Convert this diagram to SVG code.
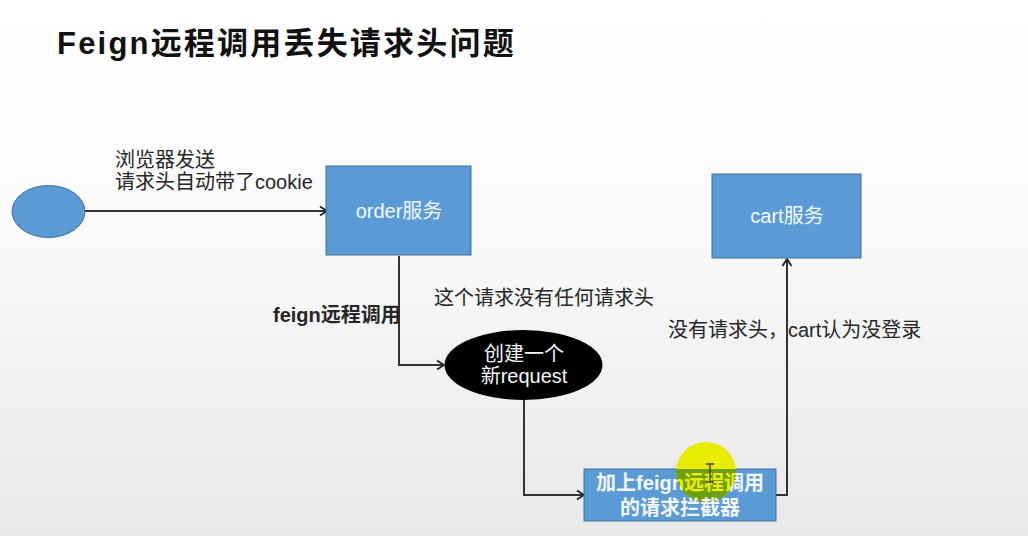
<svg xmlns="http://www.w3.org/2000/svg" width="1028" height="536" viewBox="0 0 1028 536">
<style>
text{font-family:"Liberation Sans","Noto Sans CJK SC",sans-serif;font-size:20px;fill:#262626}
.w{fill:#f4f8fc;text-anchor:middle}
.b{font-weight:bold}
.box{fill:#5b9bd5;stroke:#41719c;stroke-width:1}
.c{fill:none;stroke:#333;stroke-width:2}
</style>
<defs>
<linearGradient id="bg" x1="0" y1="0" x2="0" y2="1"><stop offset="0" stop-color="#ffffff"/><stop offset="0.45" stop-color="#f9f9f9"/><stop offset="1" stop-color="#e8e8e8"/></linearGradient>
<radialGradient id="hl" gradientUnits="userSpaceOnUse" cx="706" cy="472" r="30"><stop offset="0.97" stop-color="#eef000"/><stop offset="1" stop-color="#f4f8fc"/></radialGradient>
<clipPath id="inBox"><rect x="584" y="469" width="192" height="52"/></clipPath>
<marker id="a" markerUnits="userSpaceOnUse" markerWidth="12" markerHeight="12" refX="10" refY="6" orient="auto"><path d="M3 1.500L10 6L3 10.500" fill="none" stroke="#222" stroke-width="1.800"/></marker>
</defs>
<rect width="1028" height="536" fill="url(#bg)"/>
<text x="57" y="54" style="font-size:31px;font-weight:bold;letter-spacing:2.200px;fill:#111">Feign远程调用丢失请求头问题</text>
<g id="connectors">
<path class="c" marker-end="url(#a)" d="M85 211H327"/>
<path class="c" marker-end="url(#a)" d="M399 256V365H444"/>
<path class="c" marker-end="url(#a)" d="M524 398V495H584"/>
<path class="c" marker-end="url(#a)" d="M776 495H787V259"/>
</g>
<g id="browser"><ellipse class="box" cx="48.500" cy="211.500" rx="36.500" ry="26"/></g>
<g id="order"><rect class="box" x="326" y="166" width="145" height="89"/><text class="w" x="399" y="218">order服务</text></g>
<g id="cart"><rect class="box" x="712" y="174" width="149" height="84"/><text class="w" x="787" y="223">cart服务</text></g>
<g id="new-request"><ellipse cx="523.500" cy="365" rx="79" ry="35" fill="#000"/><text class="w" x="524" y="361">创建一个</text><text class="w" x="524" y="383">新request</text></g>
<g id="interceptor"><rect class="box" x="584" y="469" width="192" height="52"/>
<circle cx="706" cy="472" r="30" fill="#e8ec00"/>
<circle cx="706" cy="472" r="30" fill="#6fa014" clip-path="url(#inBox)"/>
<text class="w b" x="680" y="490" style="fill:url(#hl)">加上feign远程调用</text><text class="w b" x="680" y="515">的请求拦截器</text>
<path d="M706 464H714M710 464V482M706 482H714" stroke="#444" stroke-width="1.500" fill="none"/></g>
<g id="labels">
<text x="115" y="167">浏览器发送</text>
<text x="115" y="189">请求头自动带了cookie</text>
<text class="b" x="273" y="322">feign远程调用</text>
<text x="434" y="305">这个请求没有任何请求头</text>
<text x="668" y="337">没有请求头，cart认为没登录</text>
</g>
</svg>
